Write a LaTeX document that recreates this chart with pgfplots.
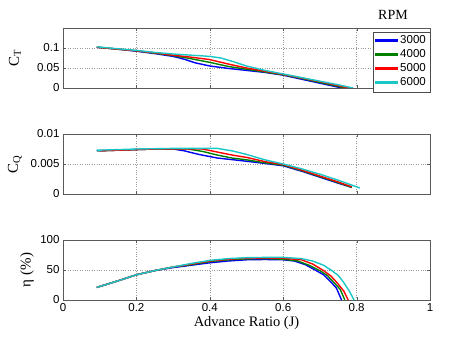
\documentclass[border=0pt]{standalone}
\usepackage{fontspec}
\setmainfont{Liberation Sans}
\newfontfamily\serif{Liberation Serif}
\usepackage{pgfplots}
\pgfplotsset{compat=1.18}
\definecolor{mblue}{rgb}{0,0,0.95}
\definecolor{mgreen}{rgb}{0,0.5,0}
\definecolor{mred}{rgb}{1,0,0}
\definecolor{mcyan}{rgb}{0.1,0.78,0.78}
\pgfplotsset{
  myax/.style={
    width=367pt, height=60pt, scale only axis, anchor=south west,
    xmin=0, xmax=1, xtick={0,0.2,0.4,0.6,0.8,1},
    scaled y ticks=false, scaled x ticks=false,
    grid=major, grid style={dotted, gray!80, line width=0.5pt},
    tick align=inside, major tick length=3pt,
    axis line style={black!65}, tick style={black!65},
    ticklabel style={font=\fontsize{11.5}{12}\selectfont},
    /pgf/number format/assume math mode=true,
    every axis plot/.append style={line width=1.4pt, no marks},
  }
}
\begin{document}
\begin{tikzpicture}[x=1pt,y=1pt]
\path[use as bounding box] (0,0) rectangle (474,354);
% ---------- C_T ----------
\begin{axis}[myax, at={(63pt,266pt)},
  ymin=0, ymax=0.15, ytick={0,0.05,0.1}, yticklabels={0,0.05,0.1},
  xticklabels={},
  ylabel={C\textsubscript{T}},
  every axis y label/.style={at={(axis description cs:-0.131,0.5)}, anchor=center, rotate=90, font=\serif\fontsize{15}{16}\selectfont},
  legend style={at={(rel axis cs:1,0.933)}, anchor=north east, yshift=0.5pt, draw=black!70, fill=white,
    font=\fontsize{11.5}{12}\selectfont, inner sep=2pt, row sep=0pt,
    nodes={minimum height=14pt, inner ysep=0pt}},
  legend cell align=left,
  legend image code/.code={\fill[#1] (0pt,-0.9pt) rectangle (22pt,0.9pt);},
]
\addplot[mblue] coordinates {(0.092,0.102)(0.15,0.097)(0.2,0.092)(0.25,0.086)(0.3,0.079)(0.33,0.072)(0.36,0.063)(0.4,0.055)(0.45,0.049)(0.5,0.044)(0.55,0.039)(0.6,0.032)(0.65,0.022)(0.7,0.012)(0.73,0.006)(0.76,0.0)};
\addplot[mgreen] coordinates {(0.092,0.102)(0.15,0.097)(0.2,0.093)(0.25,0.087)(0.3,0.081)(0.35,0.073)(0.4,0.064)(0.45,0.054)(0.5,0.047)(0.55,0.040)(0.6,0.033)(0.65,0.024)(0.7,0.014)(0.74,0.006)(0.77,0.0)};
\addplot[mred] coordinates {(0.092,0.102)(0.15,0.097)(0.2,0.093)(0.25,0.088)(0.3,0.082)(0.35,0.077)(0.4,0.071)(0.45,0.060)(0.5,0.050)(0.55,0.042)(0.6,0.034)(0.65,0.025)(0.7,0.016)(0.75,0.006)(0.78,0.0)};
\addplot[mcyan] coordinates {(0.092,0.103)(0.15,0.098)(0.2,0.094)(0.25,0.089)(0.3,0.085)(0.35,0.082)(0.4,0.079)(0.43,0.075)(0.46,0.067)(0.5,0.055)(0.55,0.044)(0.6,0.035)(0.65,0.026)(0.7,0.017)(0.75,0.008)(0.79,0.0)};
\legend{3000,4000,5000,6000}
\end{axis}
% ---------- C_Q ----------
\begin{axis}[myax, at={(63pt,160pt)},
  ymin=0, ymax=0.01, ytick={0,0.005,0.01}, yticklabels={0,0.005,0.01},
  xticklabels={},
  ylabel={C\textsubscript{Q}},
  every axis y label/.style={at={(axis description cs:-0.131,0.5)}, anchor=center, rotate=90, font=\serif\fontsize{15}{16}\selectfont},
]
\addplot[mblue] coordinates {(0.092,0.0072)(0.15,0.0073)(0.2,0.0074)(0.25,0.0075)(0.3,0.0075)(0.33,0.0072)(0.37,0.0066)(0.42,0.0060)(0.48,0.0056)(0.55,0.0051)(0.6,0.0047)(0.65,0.0038)(0.7,0.0028)(0.75,0.0018)(0.787,0.0011)};
\addplot[mgreen] coordinates {(0.092,0.0072)(0.15,0.0073)(0.2,0.0074)(0.25,0.0075)(0.3,0.0075)(0.34,0.0075)(0.38,0.0071)(0.42,0.0065)(0.46,0.0060)(0.5,0.0057)(0.55,0.0052)(0.6,0.0048)(0.65,0.0039)(0.7,0.0029)(0.75,0.0019)(0.787,0.0011)};
\addplot[mred] coordinates {(0.1,0.0072)(0.15,0.0073)(0.2,0.0074)(0.25,0.0075)(0.3,0.0075)(0.38,0.0075)(0.42,0.0070)(0.46,0.0065)(0.5,0.0061)(0.55,0.0054)(0.6,0.0049)(0.65,0.0040)(0.7,0.0030)(0.75,0.0020)(0.787,0.0012)};
\addplot[mcyan] coordinates {(0.092,0.0073)(0.15,0.0074)(0.2,0.0075)(0.3,0.0076)(0.42,0.0076)(0.46,0.0072)(0.5,0.0066)(0.55,0.0057)(0.6,0.0050)(0.65,0.0042)(0.7,0.0033)(0.75,0.0023)(0.809,0.0010)};
\end{axis}
% ---------- eta ----------
\begin{axis}[myax, at={(63pt,54pt)},
  ymin=0, ymax=100, ytick={0,50,100},
  xticklabels={0,0.2,0.4,0.6,0.8,1},
  xlabel={Advance Ratio (J)},
  xlabel style={font=\serif\fontsize{14.5}{15}\selectfont, yshift=2pt},
  ylabel={η (\%)},
  every axis y label/.style={at={(axis description cs:-0.098,0.5)}, anchor=center, rotate=90, font=\serif\fontsize{15}{16}\selectfont},
]
\addplot[mblue] coordinates {(0.092,21)(0.15,32)(0.2,42)(0.25,49)(0.3,54)(0.35,58)(0.4,62)(0.45,65)(0.5,67)(0.55,67.5)(0.6,67)(0.63,65)(0.66,59)(0.69,49)(0.71,42)(0.73,30)(0.745,20)(0.752,10)(0.759,0)};
\addplot[mgreen] coordinates {(0.092,21)(0.15,32)(0.2,42)(0.25,49)(0.3,55)(0.35,59)(0.4,64)(0.45,67)(0.5,68.5)(0.55,69)(0.6,68)(0.64,65)(0.67,58)(0.70,49)(0.72,41)(0.737,30)(0.755,18)(0.768,0)};
\addplot[mred] coordinates {(0.092,21)(0.15,32)(0.2,42)(0.25,49)(0.3,55)(0.35,60)(0.4,65)(0.45,68)(0.5,69.5)(0.55,70)(0.6,69.5)(0.65,67)(0.68,60)(0.71,49)(0.73,40)(0.745,30)(0.765,15)(0.777,0)};
\addplot[mcyan] coordinates {(0.092,21)(0.15,32)(0.2,42)(0.25,49)(0.3,55)(0.35,61)(0.4,66)(0.45,69)(0.5,70.5)(0.55,71)(0.6,71)(0.65,69)(0.68,65)(0.71,58)(0.73,50)(0.75,41)(0.764,30)(0.78,15)(0.793,0)};
\end{axis}
\node[font=\serif\fontsize{14}{15}\selectfont] at (393,339) {RPM};
\end{tikzpicture}
\end{document}
